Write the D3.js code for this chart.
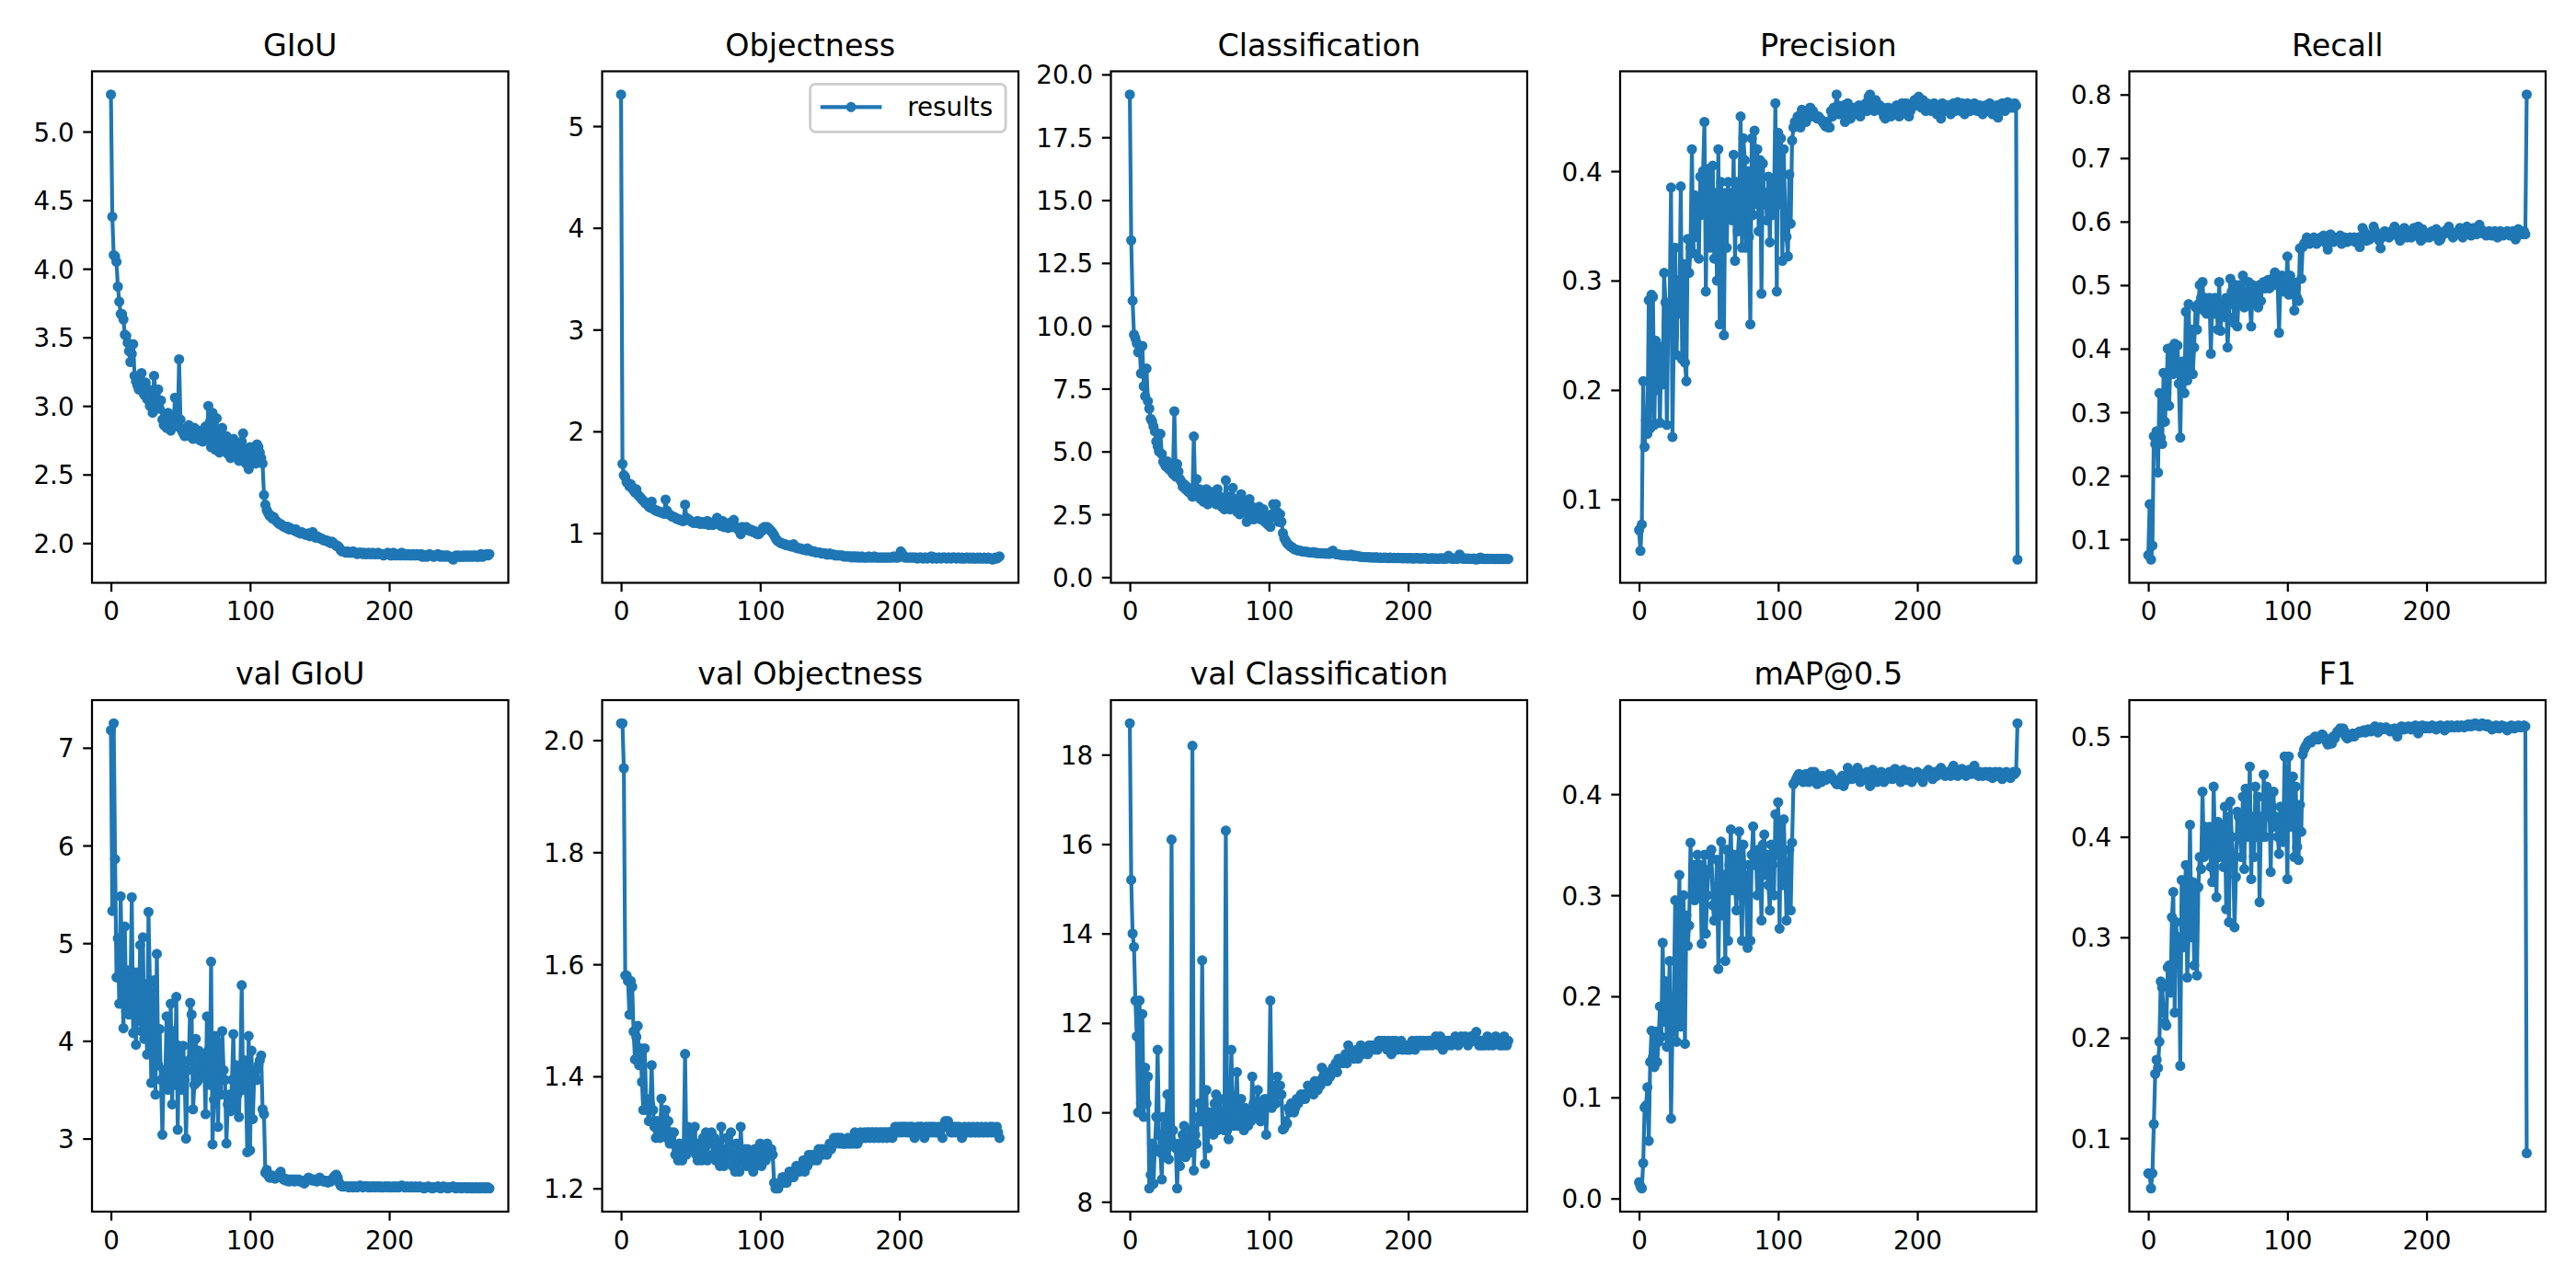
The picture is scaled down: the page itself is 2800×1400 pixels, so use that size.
<html>
<script src="https://d3js.org/d3.v7.min.js"></script>
<style>
body{margin:0;background:#fff;}
svg{display:block;}
</style>
<body>
<div class="visualizations"></div>

<script>
const width = 2800;
const height = 1400;
const pt = 200 / 72; // one matplotlib point at 200 dpi
const blue = '#1f77b4';
const font = '"DejaVu Sans", sans-serif';

const panelW = 452.5;
const panelH = 556;
const colX = [100, 654.5, 1207.5, 1761, 2314.5];
const rowY = [77.5, 761];

// values per epoch
const giou = [
5.27,4.38,4.10,4.09,4.05,3.87,3.76,3.67,3.67,3.63,
3.52,3.51,3.46,3.40,3.32,3.38,3.45,3.22,3.18,3.15,
3.12,3.20,3.24,3.10,3.08,3.17,3.05,3.12,3.00,3.06,
2.95,3.22,3.10,3.02,3.12,2.98,3.04,2.90,2.86,2.92,
2.84,2.95,2.88,2.82,2.93,2.86,3.06,2.88,2.85,3.34,
2.90,2.82,2.80,2.78,2.84,2.81,2.86,2.78,2.83,2.76,
2.84,2.80,2.77,2.82,2.75,2.79,2.74,2.80,2.85,2.76,
3.00,2.88,2.70,2.95,2.78,2.68,2.91,2.72,2.66,2.80,
2.84,2.74,2.68,2.78,2.65,2.72,2.62,2.70,2.76,2.64,
2.72,2.68,2.60,2.66,2.74,2.80,2.62,2.58,2.66,2.54,
2.70,2.68,2.62,2.64,2.58,2.72,2.70,2.66,2.62,2.58,
2.35,2.28,2.24,2.22,2.20,2.20,2.18,2.19,2.17,2.16,
2.15,2.14,2.14,2.13,2.12,2.12,2.11,2.12,2.10,2.11,
2.10,2.10,2.09,2.10,2.08,2.08,2.07,2.08,2.07,2.07,
2.06,2.06,2.07,2.05,2.06,2.08,2.05,2.04,2.05,2.04,
2.04,2.03,2.03,2.02,2.02,2.02,2.01,2.01,2.00,2.01,
2.00,1.99,1.98,1.98,1.97,1.95,1.94,1.94,1.94,1.93,
1.94,1.93,1.93,1.93,1.94,1.93,1.93,1.92,1.93,1.93,
1.93,1.92,1.93,1.92,1.92,1.93,1.92,1.92,1.93,1.92,
1.92,1.92,1.93,1.92,1.92,1.92,1.91,1.92,1.92,1.93,
1.92,1.91,1.91,1.93,1.92,1.91,1.92,1.92,1.91,1.93,
1.92,1.91,1.92,1.91,1.92,1.91,1.91,1.92,1.91,1.91,
1.92,1.91,1.91,1.92,1.90,1.91,1.91,1.90,1.91,1.92,
1.91,1.91,1.90,1.91,1.91,1.92,1.91,1.90,1.91,1.91,
1.90,1.91,1.91,1.90,1.90,1.89,1.88,1.90,1.91,1.90,
1.91,1.90,1.90,1.91,1.90,1.91,1.90,1.91,1.90,1.91,
1.90,1.91,1.91,1.90,1.90,1.91,1.92,1.90,1.91,1.91,
1.92,1.91,1.92];

const objectness = [
5.31,1.68,1.57,1.55,1.50,1.49,1.46,1.48,1.44,1.42,
1.40,1.43,1.38,1.36,1.35,1.33,1.32,1.30,1.29,1.28,
1.26,1.25,1.31,1.24,1.23,1.22,1.22,1.21,1.21,1.20,
1.20,1.19,1.33,1.22,1.19,1.18,1.17,1.16,1.16,1.15,
1.14,1.14,1.13,1.13,1.12,1.12,1.28,1.15,1.14,1.13,
1.12,1.11,1.10,1.11,1.10,1.12,1.10,1.09,1.11,1.10,
1.09,1.10,1.12,1.08,1.09,1.10,1.08,1.09,1.12,1.15,
1.10,1.08,1.07,1.12,1.06,1.09,1.07,1.05,1.10,1.07,
1.06,1.13,1.07,1.05,1.04,1.02,0.99,1.06,1.05,1.04,
1.06,1.03,1.04,1.02,1.03,1.01,1.02,1.00,0.99,0.99,
1.01,1.02,1.05,1.06,1.04,1.06,1.05,1.03,1.02,1.00,
0.98,0.95,0.93,0.92,0.91,0.90,0.90,0.89,0.89,0.88,
0.88,0.88,0.87,0.87,0.89,0.86,0.86,0.85,0.85,0.85,
0.84,0.84,0.84,0.83,0.85,0.83,0.83,0.82,0.82,0.82,
0.81,0.81,0.81,0.81,0.80,0.80,0.80,0.80,0.79,0.79,
0.80,0.79,0.79,0.79,0.78,0.78,0.78,0.78,0.78,0.78,
0.77,0.77,0.77,0.77,0.77,0.77,0.76,0.77,0.77,0.76,
0.77,0.76,0.76,0.77,0.76,0.76,0.76,0.76,0.77,0.76,
0.76,0.76,0.77,0.76,0.76,0.76,0.76,0.76,0.76,0.76,
0.76,0.76,0.76,0.76,0.76,0.76,0.77,0.76,0.76,0.76,
0.78,0.82,0.80,0.77,0.76,0.76,0.76,0.76,0.76,0.76,
0.76,0.76,0.76,0.75,0.76,0.76,0.76,0.75,0.76,0.76,
0.75,0.76,0.76,0.77,0.75,0.76,0.76,0.75,0.76,0.76,
0.75,0.76,0.76,0.76,0.75,0.76,0.76,0.75,0.76,0.76,
0.76,0.75,0.76,0.76,0.75,0.76,0.75,0.75,0.76,0.76,
0.75,0.76,0.75,0.76,0.75,0.75,0.76,0.75,0.76,0.75,
0.75,0.76,0.75,0.75,0.76,0.75,0.75,0.74,0.75,0.76,
0.75,0.76,0.77];

const classification = [
19.2,13.4,11.0,9.65,9.5,9.3,8.95,9.2,8.1,9.2,
7.6,7.2,8.3,7.0,6.7,6.3,6.2,6.0,5.8,5.4,
5.2,5.0,5.7,4.9,4.6,4.5,4.4,4.6,4.3,4.5,
4.2,4.1,6.6,4.0,4.5,4.2,3.9,3.8,3.6,3.7,
3.5,3.6,3.4,3.5,3.3,3.2,5.6,3.4,3.9,3.2,
3.5,3.1,3.4,3.0,3.3,3.5,2.9,3.2,3.4,3.0,
3.3,3.1,2.9,3.5,3.0,3.2,2.8,3.1,2.7,3.85,
3.0,3.2,2.7,2.9,3.55,2.8,3.1,2.6,2.9,2.5,
3.3,2.8,3.0,2.6,2.2,2.9,3.1,2.5,2.8,2.3,
2.7,2.4,2.6,2.8,2.3,2.5,2.7,2.2,2.4,2.1,
2.3,2.0,2.5,2.9,2.4,2.9,2.6,2.2,2.5,2.2,
1.75,1.55,1.45,1.35,1.30,1.25,1.20,1.18,1.12,1.10,
1.08,1.06,1.06,1.04,1.03,1.02,1.01,1.01,1.00,0.99,
0.98,0.98,1.00,0.97,0.96,0.96,0.95,0.95,0.95,0.94,
0.94,0.93,0.94,0.93,0.93,1.02,1.05,0.95,0.92,0.91,
0.90,0.90,0.88,0.88,0.87,0.88,0.86,0.86,0.86,0.90,
0.85,0.84,0.86,0.84,0.83,0.82,0.82,0.81,0.80,0.80,
0.79,0.80,0.79,0.78,0.79,0.78,0.78,0.79,0.78,0.77,
0.78,0.77,0.77,0.78,0.77,0.77,0.76,0.78,0.77,0.76,
0.77,0.76,0.76,0.77,0.76,0.76,0.75,0.76,0.76,0.75,
0.75,0.76,0.75,0.75,0.74,0.75,0.76,0.75,0.74,0.75,
0.74,0.75,0.76,0.74,0.74,0.73,0.74,0.75,0.74,0.74,
0.74,0.73,0.74,0.74,0.75,0.74,0.73,0.74,0.74,0.85,
0.78,0.74,0.73,0.74,0.74,0.73,0.74,0.90,0.80,0.74,
0.73,0.74,0.73,0.74,0.73,0.73,0.72,0.74,0.73,0.70,
0.73,0.72,0.78,0.73,0.72,0.73,0.72,0.73,0.72,0.73,
0.72,0.73,0.72,0.72,0.73,0.72,0.72,0.73,0.72,0.72,
0.73,0.72,0.72];

const precision = [
0.072,0.053,0.077,0.208,0.148,0.172,0.160,0.282,0.165,0.287,
0.285,0.168,0.245,0.200,0.240,0.170,0.235,0.205,0.307,0.280,
0.168,0.262,0.280,0.385,0.157,0.250,0.330,0.232,0.300,0.270,
0.386,0.228,0.315,0.225,0.208,0.338,0.307,0.330,0.420,0.325,
0.378,0.340,0.375,0.320,0.395,0.360,0.400,0.445,0.290,0.380,
0.402,0.330,0.360,0.405,0.320,0.380,0.300,0.420,0.260,0.390,
0.350,0.250,0.380,0.330,0.390,0.360,0.380,0.355,0.415,0.318,
0.390,0.345,0.370,0.450,0.330,0.430,0.410,0.330,0.400,0.340,
0.260,0.430,0.360,0.437,0.370,0.420,0.345,0.410,0.288,0.407,
0.370,0.380,0.355,0.395,0.335,0.390,0.360,0.375,0.462,0.290,
0.435,0.370,0.430,0.318,0.420,0.360,0.340,0.322,0.397,0.352,
0.428,0.440,0.445,0.442,0.450,0.448,0.440,0.456,0.450,0.452,
0.445,0.455,0.452,0.458,0.450,0.455,0.452,0.450,0.448,0.450,
0.448,0.447,0.445,0.443,0.441,0.445,0.440,0.440,0.455,0.450,
0.458,0.455,0.470,0.460,0.452,0.455,0.458,0.460,0.445,0.455,
0.462,0.450,0.448,0.455,0.452,0.458,0.455,0.456,0.460,0.450,
0.455,0.458,0.460,0.462,0.455,0.468,0.470,0.458,0.460,0.455,
0.465,0.462,0.458,0.460,0.455,0.458,0.450,0.448,0.455,0.458,
0.455,0.450,0.452,0.455,0.458,0.460,0.455,0.450,0.452,0.462,
0.458,0.455,0.462,0.452,0.450,0.455,0.458,0.462,0.465,0.460,
0.466,0.468,0.462,0.458,0.465,0.460,0.455,0.462,0.458,0.460,
0.455,0.460,0.462,0.458,0.452,0.460,0.458,0.448,0.462,0.460,
0.455,0.458,0.460,0.455,0.452,0.458,0.462,0.455,0.460,0.463,
0.458,0.455,0.462,0.460,0.452,0.458,0.462,0.460,0.455,0.458,
0.460,0.462,0.458,0.455,0.458,0.460,0.455,0.452,0.458,0.460,
0.455,0.458,0.462,0.455,0.452,0.458,0.455,0.460,0.449,0.458,
0.460,0.462,0.458,0.455,0.460,0.463,0.462,0.458,0.460,0.458,
0.462,0.460,0.045];

const recall = [
0.075,0.155,0.068,0.090,0.262,0.250,0.270,0.205,0.330,0.260,
0.250,0.362,0.285,0.330,0.400,0.310,0.385,0.402,0.360,0.408,
0.370,0.405,0.345,0.260,0.375,0.380,0.330,0.458,0.350,0.470,
0.370,0.430,0.360,0.402,0.465,0.430,0.470,0.500,0.480,0.505,
0.460,0.480,0.455,0.475,0.480,0.392,0.470,0.455,0.480,0.470,
0.430,0.505,0.428,0.470,0.460,0.450,0.480,0.402,0.450,0.510,
0.490,0.470,0.440,0.500,0.435,0.480,0.500,0.470,0.515,0.465,
0.490,0.480,0.505,0.470,0.435,0.500,0.480,0.470,0.495,0.465,
0.500,0.475,0.502,0.505,0.495,0.500,0.508,0.495,0.505,0.510,
0.500,0.520,0.505,0.500,0.425,0.505,0.515,0.490,0.510,0.495,
0.545,0.485,0.515,0.490,0.505,0.460,0.495,0.480,0.475,0.558,
0.510,0.560,0.565,0.568,0.575,0.572,0.565,0.568,0.572,0.575,
0.570,0.565,0.568,0.572,0.575,0.570,0.578,0.572,0.565,0.556,
0.575,0.580,0.572,0.568,0.575,0.570,0.572,0.575,0.578,0.565,
0.570,0.575,0.572,0.568,0.570,0.575,0.572,0.570,0.575,0.568,
0.572,0.575,0.560,0.570,0.590,0.585,0.575,0.570,0.578,0.572,
0.575,0.580,0.592,0.585,0.575,0.580,0.570,0.558,0.575,0.582,
0.585,0.580,0.578,0.575,0.582,0.585,0.580,0.592,0.585,0.578,
0.575,0.570,0.580,0.585,0.590,0.578,0.575,0.582,0.585,0.575,
0.580,0.590,0.585,0.578,0.592,0.575,0.570,0.588,0.580,0.575,
0.582,0.578,0.575,0.580,0.585,0.578,0.582,0.588,0.575,0.570,
0.572,0.578,0.580,0.585,0.582,0.588,0.592,0.585,0.580,0.575,
0.578,0.582,0.580,0.585,0.590,0.582,0.575,0.580,0.585,0.592,
0.588,0.582,0.578,0.585,0.590,0.582,0.580,0.585,0.595,0.588,
0.582,0.585,0.580,0.578,0.582,0.585,0.580,0.578,0.582,0.585,
0.580,0.575,0.582,0.585,0.580,0.578,0.582,0.580,0.585,0.582,
0.578,0.580,0.585,0.582,0.572,0.578,0.588,0.585,0.580,0.582,
0.585,0.580,0.800];

const valGiou = [
7.18,5.33,7.25,5.86,4.65,5.05,4.38,5.48,4.70,4.13,
5.17,4.30,4.72,4.27,4.50,5.47,4.08,4.70,3.96,4.70,
4.20,4.98,4.10,5.06,4.02,4.55,3.86,5.32,4.60,3.57,
4.10,4.62,3.45,4.89,3.75,4.12,3.60,3.04,3.70,3.55,
4.25,3.50,3.80,4.38,3.35,4.10,3.55,4.45,3.09,3.95,
3.75,3.50,3.95,3.60,3.00,3.70,3.80,4.39,4.27,3.30,
3.55,4.02,3.58,3.90,3.62,3.85,3.70,3.80,3.25,4.25,
3.90,3.55,4.81,2.94,3.40,4.05,3.65,3.12,3.98,3.45,
4.10,3.70,3.60,2.95,3.35,3.45,3.28,3.60,4.07,3.30,
3.75,3.45,3.22,3.70,4.57,3.50,3.80,3.55,2.86,4.05,
2.88,3.90,3.20,3.65,3.70,3.60,3.75,3.80,3.85,3.30,
3.25,2.65,2.68,2.62,2.60,2.60,2.62,2.60,2.59,2.60,
2.62,2.64,2.66,2.60,2.58,2.59,2.57,2.58,2.56,2.58,
2.57,2.58,2.56,2.58,2.57,2.58,2.56,2.57,2.55,2.54,
2.56,2.58,2.60,2.59,2.58,2.57,2.58,2.57,2.56,2.58,
2.60,2.58,2.57,2.56,2.57,2.56,2.55,2.57,2.56,2.58,
2.60,2.62,2.63,2.60,2.55,2.52,2.51,2.51,2.51,2.51,
2.51,2.50,2.51,2.51,2.50,2.51,2.51,2.50,2.51,2.52,
2.51,2.50,2.51,2.51,2.51,2.50,2.51,2.50,2.51,2.51,
2.50,2.51,2.51,2.50,2.51,2.50,2.50,2.51,2.51,2.50,
2.51,2.50,2.50,2.51,2.50,2.51,2.50,2.50,2.51,2.52,
2.51,2.50,2.50,2.51,2.50,2.50,2.51,2.50,2.50,2.51,
2.50,2.50,2.51,2.50,2.50,2.49,2.50,2.50,2.51,2.50,
2.50,2.49,2.50,2.50,2.50,2.51,2.50,2.49,2.50,2.51,
2.50,2.50,2.49,2.50,2.50,2.50,2.51,2.50,2.49,2.50,
2.50,2.50,2.49,2.50,2.50,2.50,2.49,2.50,2.50,2.49,
2.50,2.49,2.50,2.50,2.49,2.50,2.49,2.50,2.50,2.49,
2.50,2.50,2.49];

const valObjectness = [
2.03,2.03,1.95,1.58,1.58,1.57,1.51,1.57,1.56,1.48,
1.43,1.47,1.49,1.42,1.45,1.39,1.34,1.45,1.36,1.34,
1.32,1.35,1.42,1.34,1.31,1.29,1.32,1.30,1.29,1.36,
1.30,1.33,1.34,1.29,1.32,1.28,1.30,1.28,1.30,1.26,
1.27,1.25,1.28,1.26,1.25,1.27,1.44,1.26,1.31,1.27,
1.28,1.30,1.27,1.31,1.26,1.25,1.28,1.27,1.25,1.29,
1.26,1.30,1.25,1.29,1.28,1.30,1.26,1.29,1.25,1.27,
1.28,1.24,1.31,1.27,1.24,1.25,1.29,1.26,1.27,1.30,
1.24,1.26,1.23,1.28,1.25,1.23,1.31,1.26,1.25,1.27,
1.24,1.27,1.26,1.24,1.25,1.23,1.27,1.24,1.26,1.25,
1.28,1.24,1.27,1.26,1.25,1.28,1.27,1.26,1.27,1.26,
1.21,1.20,1.20,1.20,1.21,1.21,1.22,1.21,1.22,1.21,
1.22,1.23,1.22,1.23,1.22,1.23,1.24,1.23,1.23,1.24,
1.24,1.25,1.23,1.25,1.24,1.26,1.25,1.26,1.25,1.26,
1.26,1.25,1.27,1.26,1.27,1.26,1.27,1.27,1.26,1.27,
1.28,1.27,1.28,1.29,1.28,1.29,1.29,1.28,1.29,1.28,
1.28,1.28,1.28,1.29,1.28,1.28,1.29,1.28,1.30,1.28,
1.28,1.29,1.30,1.29,1.29,1.30,1.29,1.30,1.30,1.29,
1.30,1.30,1.29,1.30,1.30,1.29,1.30,1.30,1.29,1.30,
1.30,1.29,1.30,1.30,1.30,1.29,1.30,1.31,1.30,1.31,
1.30,1.31,1.30,1.31,1.31,1.30,1.31,1.30,1.31,1.31,
1.30,1.29,1.30,1.31,1.30,1.31,1.31,1.30,1.29,1.31,
1.30,1.31,1.30,1.31,1.30,1.31,1.30,1.30,1.31,1.30,
1.31,1.29,1.31,1.32,1.31,1.32,1.31,1.30,1.30,1.31,
1.30,1.31,1.30,1.31,1.30,1.29,1.30,1.31,1.30,1.30,
1.31,1.30,1.30,1.31,1.30,1.30,1.31,1.30,1.30,1.31,
1.30,1.30,1.31,1.30,1.30,1.31,1.30,1.31,1.30,1.30,
1.31,1.30,1.29];

const valClassification = [
18.7,15.2,14.0,13.7,12.5,11.7,10.0,12.5,10.2,12.2,
9.9,11.0,10.2,10.8,8.3,8.6,9.3,8.4,9.2,9.9,
11.4,9.5,9.1,8.5,9.9,9.0,9.7,10.4,8.95,9.5,
16.1,9.6,9.3,9.2,8.3,9.3,8.8,9.1,9.5,9.7,
9.0,9.3,9.4,9.1,9.6,18.2,8.7,9.5,9.3,9.9,
10.2,9.8,13.4,10.0,8.85,10.5,9.2,9.9,10.0,9.6,
9.5,10.2,10.4,9.6,9.8,10.3,9.7,10.0,9.6,16.3,
9.6,9.4,9.9,11.4,9.8,9.7,10.2,10.9,9.7,10.1,
10.3,9.8,9.6,10.1,9.9,9.7,10.0,9.8,10.8,10.2,
9.9,10.1,10.5,10.0,9.8,10.2,9.9,10.3,9.5,10.2,
10.3,12.5,10.1,10.3,10.6,10.2,10.8,10.4,10.6,10.4,
9.62,9.65,9.8,9.75,10.1,10.0,10.2,10.1,10.0,10.1,
10.3,10.2,10.3,10.4,10.3,10.4,10.3,10.4,10.6,10.5,
10.6,10.5,10.4,10.7,10.6,10.5,10.7,10.6,11.0,10.8,
10.9,10.8,10.7,10.9,10.8,10.9,11.0,11.0,11.1,10.9,
11.2,11.1,11.2,11.1,11.2,11.3,11.1,11.5,11.2,11.3,
11.3,11.2,11.3,11.4,11.2,11.3,11.5,11.3,11.4,11.4,
11.4,11.3,11.5,11.4,11.5,11.4,11.5,11.5,11.4,11.6,
11.5,11.6,11.5,11.6,11.5,11.4,11.6,11.5,11.3,11.6,
11.5,11.6,11.4,11.5,11.5,11.6,11.4,11.5,11.5,11.4,
11.5,11.4,11.5,11.6,11.5,11.4,11.6,11.5,11.6,11.6,
11.5,11.6,11.5,11.6,11.5,11.6,11.6,11.5,11.6,11.6,
11.7,11.6,11.5,11.7,11.6,11.4,11.6,11.6,11.5,11.6,
11.6,11.5,11.6,11.6,11.7,11.6,11.5,11.6,11.7,11.6,
11.6,11.7,11.6,11.5,11.6,11.7,11.6,11.6,11.7,11.8,
11.6,11.5,11.6,11.5,11.6,11.5,11.6,11.7,11.5,11.6,
11.6,11.5,11.6,11.7,11.6,11.6,11.5,11.6,11.5,11.7,
11.6,11.5,11.6];

const map50 = [
0.016,0.012,0.010,0.035,0.090,0.092,0.110,0.057,0.135,0.166,
0.140,0.130,0.165,0.135,0.155,0.190,0.160,0.253,0.175,0.215,
0.150,0.180,0.235,0.079,0.165,0.200,0.295,0.155,0.220,0.320,
0.170,0.260,0.300,0.153,0.280,0.250,0.270,0.352,0.300,0.330,
0.295,0.315,0.340,0.300,0.330,0.252,0.310,0.340,0.262,0.300,
0.325,0.340,0.345,0.290,0.275,0.300,0.335,0.227,0.310,0.353,
0.280,0.320,0.235,0.345,0.255,0.330,0.365,0.305,0.340,0.310,
0.285,0.340,0.363,0.300,0.255,0.350,0.320,0.300,0.248,0.330,
0.255,0.340,0.368,0.330,0.340,0.300,0.345,0.330,0.275,0.350,
0.360,0.320,0.340,0.310,0.285,0.350,0.330,0.300,0.380,0.340,
0.392,0.267,0.370,0.310,0.375,0.330,0.275,0.320,0.345,0.285,
0.352,0.410,0.412,0.415,0.418,0.420,0.418,0.415,0.412,0.418,
0.420,0.415,0.412,0.418,0.422,0.420,0.422,0.412,0.410,0.418,
0.415,0.412,0.418,0.416,0.414,0.415,0.418,0.420,0.418,0.416,
0.414,0.412,0.410,0.410,0.412,0.415,0.418,0.408,0.412,0.414,
0.426,0.422,0.418,0.415,0.416,0.420,0.418,0.426,0.422,0.412,
0.415,0.420,0.418,0.414,0.422,0.420,0.408,0.420,0.424,0.418,
0.416,0.412,0.420,0.418,0.422,0.420,0.412,0.418,0.415,0.420,
0.422,0.418,0.415,0.420,0.425,0.420,0.416,0.418,0.412,0.420,
0.424,0.418,0.414,0.420,0.422,0.418,0.412,0.415,0.418,0.420,
0.422,0.418,0.420,0.415,0.412,0.418,0.420,0.422,0.424,0.420,
0.418,0.415,0.420,0.422,0.418,0.420,0.424,0.426,0.422,0.420,
0.418,0.420,0.422,0.420,0.418,0.425,0.428,0.422,0.420,0.418,
0.420,0.422,0.425,0.420,0.422,0.418,0.420,0.424,0.422,0.420,
0.425,0.428,0.422,0.420,0.418,0.422,0.420,0.418,0.420,0.422,
0.420,0.418,0.422,0.418,0.416,0.420,0.422,0.418,0.420,0.422,
0.418,0.415,0.420,0.418,0.422,0.420,0.418,0.416,0.420,0.422,
0.420,0.422,0.470];

const f1 = [
0.065,0.064,0.050,0.065,0.114,0.164,0.178,0.170,0.196,0.256,
0.250,0.225,0.215,0.212,0.270,0.272,0.245,0.320,0.345,0.225,
0.315,0.290,0.300,0.172,0.357,0.290,0.330,0.372,0.260,0.300,
0.412,0.300,0.355,0.272,0.350,0.262,0.350,0.380,0.368,0.445,
0.380,0.410,0.395,0.385,0.410,0.370,0.355,0.450,0.395,0.340,
0.415,0.380,0.410,0.395,0.370,0.430,0.328,0.420,0.315,0.435,
0.400,0.380,0.310,0.360,0.425,0.420,0.400,0.380,0.440,0.368,
0.448,0.400,0.420,0.470,0.358,0.420,0.380,0.450,0.400,0.440,
0.335,0.420,0.400,0.462,0.400,0.450,0.420,0.440,0.365,0.430,
0.445,0.410,0.420,0.400,0.383,0.430,0.410,0.395,0.480,0.420,
0.358,0.480,0.410,0.430,0.460,0.380,0.450,0.390,0.377,0.432,
0.405,0.482,0.487,0.490,0.492,0.495,0.496,0.494,0.497,0.498,
0.500,0.498,0.497,0.499,0.500,0.502,0.500,0.498,0.495,0.492,
0.494,0.496,0.493,0.500,0.498,0.502,0.505,0.504,0.508,0.507,
0.508,0.505,0.500,0.498,0.499,0.500,0.502,0.503,0.500,0.502,
0.503,0.504,0.505,0.504,0.505,0.506,0.504,0.505,0.507,0.506,
0.505,0.507,0.508,0.510,0.506,0.504,0.508,0.509,0.507,0.508,
0.508,0.509,0.507,0.506,0.505,0.507,0.506,0.508,0.505,0.500,
0.505,0.508,0.510,0.508,0.507,0.509,0.508,0.510,0.508,0.507,
0.509,0.510,0.511,0.508,0.503,0.507,0.510,0.511,0.509,0.508,
0.510,0.509,0.508,0.510,0.511,0.509,0.508,0.507,0.510,0.509,
0.511,0.510,0.508,0.506,0.509,0.511,0.510,0.509,0.511,0.510,
0.509,0.510,0.511,0.509,0.510,0.511,0.510,0.509,0.511,0.510,
0.512,0.511,0.510,0.512,0.511,0.513,0.512,0.511,0.510,0.512,
0.513,0.512,0.511,0.510,0.512,0.511,0.509,0.507,0.508,0.510,
0.511,0.509,0.508,0.510,0.511,0.509,0.510,0.508,0.506,0.509,
0.510,0.511,0.509,0.508,0.510,0.509,0.511,0.510,0.509,0.510,
0.511,0.510,0.085];

const titles = ['GIoU', 'Objectness', 'Classification', 'Precision', 'Recall',
  'val GIoU', 'val Objectness', 'val Classification', 'mAP@0.5', 'F1'];

const xTicks = [0, 100, 200];
const giouTicks = [2.0, 2.5, 3.0, 3.5, 4.0, 4.5, 5.0];
const objTicks = [1, 2, 3, 4, 5];
const clsTicks = [0, 2.5, 5, 7.5, 10, 12.5, 15, 17.5, 20];
const precTicks = [0.1, 0.2, 0.3, 0.4];
const recTicks = [0.1, 0.2, 0.3, 0.4, 0.5, 0.6, 0.7, 0.8];
const valGiouTicks = [3, 4, 5, 6, 7];
const valObjTicks = [1.2, 1.4, 1.6, 1.8, 2.0];
const valClsTicks = [8, 10, 12, 14, 16, 18];
const mapTicks = [0.0, 0.1, 0.2, 0.3, 0.4];
const f1Ticks = [0.1, 0.2, 0.3, 0.4, 0.5];
const legendLabel = 'results';

const panels = [
  {values: giou, ticks: giouTicks, fmt: '.1f'},
  {values: objectness, ticks: objTicks, fmt: 'd'},
  {values: classification, ticks: clsTicks, fmt: '.1f'},
  {values: precision, ticks: precTicks, fmt: '.1f'},
  {values: recall, ticks: recTicks, fmt: '.1f'},
  {values: valGiou, ticks: valGiouTicks, fmt: 'd'},
  {values: valObjectness, ticks: valObjTicks, fmt: '.1f'},
  {values: valClassification, ticks: valClsTicks, fmt: 'd'},
  {values: map50, ticks: mapTicks, fmt: '.1f'},
  {values: f1, ticks: f1Ticks, fmt: '.1f'}
].map((p, i) => ({...p, title: titles[i], col: i % 5, row: Math.floor(i / 5)}));

function styleAxis(sel){
  sel.attr('font-size', 10 * pt).attr('font-family', font);
  sel.select('.domain').remove();
  sel.selectAll('.tick line').attr('stroke', '#000').attr('stroke-width', 0.8 * pt);
  sel.selectAll('.tick text').attr('fill', '#000');
}

function plot(d, i){
  const g = d3.select(this);
  const last = d.values.length - 1;

  // matplotlib style 5% margins
  const x = d3.scaleLinear()
    .domain([-0.05 * last, last * 1.05])
    .range([0, panelW]);
  const [lo, hi] = d3.extent(d.values);
  const pad = (hi - lo) * 0.05;
  const y = d3.scaleLinear()
    .domain([lo - pad, hi + pad])
    .range([panelH, 0]);

  const clipId = 'clip' + i;
  g.append('clipPath').attr('id', clipId)
    .append('rect').attr('width', panelW).attr('height', panelH);

  const line = d3.line()
    .x((v, j) => x(j))
    .y(v => y(v));

  const plotArea = g.append('g').attr('clip-path', `url(#${clipId})`);
  plotArea.append('path')
    .attr('d', line(d.values))
    .attr('fill', 'none')
    .attr('stroke', blue)
    .attr('stroke-width', 1.5 * pt)
    .attr('stroke-linejoin', 'round');
  plotArea.selectAll('circle')
    .data(d.values)
    .join('circle')
      .attr('cx', (v, j) => x(j))
      .attr('cy', v => y(v))
      .attr('r', 1.5 * pt)
      .attr('fill', blue)
      .attr('stroke', blue)
      .attr('stroke-width', pt);

  g.append('g')
    .attr('transform', `translate(0,${panelH})`)
    .call(d3.axisBottom(x).tickValues(xTicks).tickFormat(d3.format('d'))
      .tickSize(3.5 * pt).tickPadding(3.5 * pt))
    .call(styleAxis)
    .selectAll('.tick text').attr('dy', '0.76em');

  g.append('g')
    .call(d3.axisLeft(y).tickValues(d.ticks).tickFormat(d3.format(d.fmt))
      .tickSize(3.5 * pt).tickPadding(3.5 * pt))
    .call(styleAxis)
    .selectAll('.tick text').attr('dy', '0.36em');

  g.append('rect')
    .attr('width', panelW)
    .attr('height', panelH)
    .attr('fill', 'none')
    .attr('stroke', '#000')
    .attr('stroke-width', 0.8 * pt);

  g.append('text')
    .attr('x', panelW / 2)
    .attr('y', -6 * pt)
    .attr('text-anchor', 'middle')
    .attr('font-family', font)
    .attr('font-size', 12 * pt)
    .text(d.title);

  if (i === 1) drawLegend(g);
}

function drawLegend(g){
  const fs = 10 * pt;
  const lg = g.append('g');
  const frame = lg.append('rect');
  const label = lg.append('text')
    .attr('font-family', font)
    .attr('font-size', fs)
    .text(legendLabel);
  const tw = label.node().getComputedTextLength();
  const boxW = 0.4 * fs + 2.4 * fs + 1.0 * fs + tw + 0.5 * fs;
  const boxH = 0.8 * fs + 1.07 * fs;
  const left = panelW - 0.5 * fs - boxW;
  const top = 0.5 * fs;
  const cy = top + boxH / 2 - 1;

  frame.attr('x', left).attr('y', top)
    .attr('width', boxW).attr('height', boxH)
    .attr('rx', 0.2 * fs)
    .attr('fill', '#fff').attr('fill-opacity', 0.8)
    .attr('stroke', '#cccccc').attr('stroke-width', pt);

  const hx0 = left + 0.4 * fs;
  const hx1 = hx0 + 2.4 * fs;
  lg.append('line')
    .attr('x1', hx0).attr('x2', hx1)
    .attr('y1', cy).attr('y2', cy)
    .attr('stroke', blue).attr('stroke-width', 1.5 * pt);
  lg.append('circle')
    .attr('cx', (hx0 + hx1) / 2).attr('cy', cy)
    .attr('r', 1.5 * pt)
    .attr('fill', blue).attr('stroke', blue).attr('stroke-width', pt);
  label.attr('x', hx1 + 1.0 * fs).attr('y', cy).attr('dy', '0.36em');
}

const svg = d3.select('.visualizations')
  .append('svg')
    .attr('width', width)
    .attr('height', height)
    .style('background', '#fff');

svg.selectAll('g.plot')
  .data(panels)
  .enter()
  .append('g')
    .attr('class', 'plot')
    .attr('transform', d => `translate(${colX[d.col]},${rowY[d.row]})`)
  .each(plot);
</script>
</body>
</html>
